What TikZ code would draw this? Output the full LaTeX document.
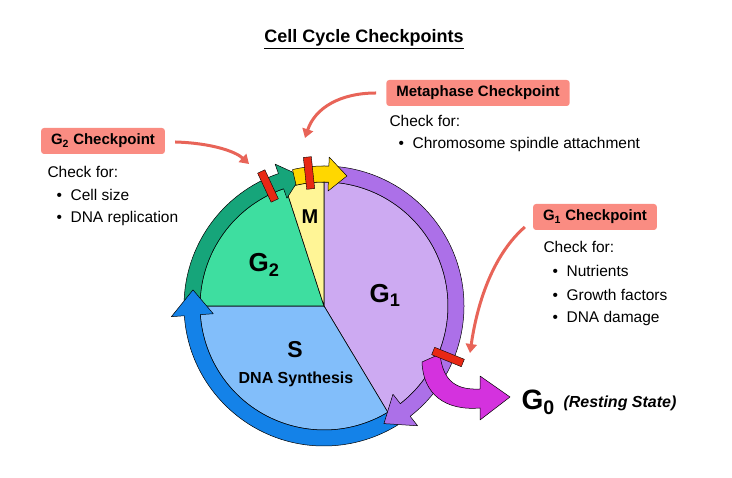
\documentclass[tikz,border=0pt]{standalone}
\usepackage{fontspec}
\setmainfont{Liberation Sans}
\usetikzlibrary{arrows.meta,calc}
\definecolor{pG1}{RGB}{205,170,242}
\definecolor{rG1}{RGB}{172,112,232}
\definecolor{pS}{RGB}{130,190,250}
\definecolor{rS}{RGB}{20,130,232}
\definecolor{pG2}{RGB}{62,222,160}
\definecolor{rG2}{RGB}{22,165,122}
\definecolor{pM}{RGB}{255,245,150}
\definecolor{rM}{RGB}{255,215,0}
\definecolor{magen}{RGB}{212,50,222}
\definecolor{redbar}{RGB}{232,40,20}
\definecolor{pinkbox}{RGB}{250,140,130}
\definecolor{pinkarr}{RGB}{232,100,88}
\newcommand{\cycarr}[5]{% color, start, tip, headlen(deg), head extra
  \filldraw[fill=#1,draw=black,line width=0.5pt,line join=round]
   (324,172) ++(#2:124) arc[start angle=#2,end angle={#3+#4},radius=124]
   -- ($(324,172)+({#3+#4}:{124-#5})$) -- ($(324,172)+(#3:132)$) -- ($(324,172)+({#3+#4}:{140+#5})$)
   -- ($(324,172)+({#3+#4}:140)$) arc[start angle={#3+#4},end angle=#2,radius=140] -- cycle;}
\tikzset{
 lbl/.style={fill=pinkbox,rounded corners=3pt,inner xsep=10pt,minimum height=26pt,font=\fontsize{15}{17}\selectfont\bfseries},
 txt/.style={anchor=west,font=\fontsize{15.5}{18}\selectfont},
 parr/.style={draw=pinkarr,line width=3pt,-{Triangle[length=9pt,width=11pt]}},
 bar/.style={fill=redbar,draw=black,line width=0.4pt},
}
\begin{document}
\begin{tikzpicture}[x=1pt,y=1pt]
\useasboundingbox (0,0) rectangle (732,478);
\coordinate (c) at (324,172);
% pie
\filldraw[fill=pG1,line width=0.6pt] (c) -- ++(90:124) arc[start angle=90,end angle=-59,radius=124] -- cycle;
\filldraw[fill=pS,line width=0.6pt] (c) -- ++(-59:124) arc[start angle=-59,end angle=-180,radius=124] -- cycle;
\filldraw[fill=pG2,line width=0.6pt] (c) -- ++(180:124) arc[start angle=180,end angle=108,radius=124] -- cycle;
\filldraw[fill=pM,line width=0.6pt] (c) -- ++(108:124) arc[start angle=108,end angle=90,radius=124] -- cycle;
% ring arrows
\cycarr{rG2}{180}{100}{9}{10}
\cycarr{rS}{-58}{-187}{11}{13}
\cycarr{rG1}{91}{-63}{11}{12}
\cycarr{rM}{103}{80}{8}{9}
% G0 arrow
\filldraw[fill=magen,line width=0.5pt,line join=round]
 (440,124) .. controls (443,95) and (458,88) .. (480,89)
 -- (480,102) -- (510,81) -- (480,58) -- (480,70)
 .. controls (445,67) and (423,84) .. (422,116) -- cycle;
% checkpoint bars
\node[bar,minimum width=32pt,minimum height=8pt,inner sep=0pt,rotate=115] (b2) at (268,292) {};
\node[bar,minimum width=32pt,minimum height=8pt,inner sep=0pt,rotate=96] (bm) at (309,305) {};
\node[bar,minimum width=32pt,minimum height=8pt,inner sep=0pt,rotate=-22] (b1) at (448,121) {};
% pie labels
\node[font=\fontsize{20}{22}\selectfont\bfseries] (m) at (310,261) {M};
\node[font=\fontsize{26}{28}\selectfont\bfseries] (g2) at (264,213) {G$_{\mathbf 2}$};
\node[font=\fontsize{26}{28}\selectfont\bfseries] (g1) at (385,183) {G$_{\mathbf 1}$};
\node[font=\fontsize{23}{25}\selectfont\bfseries] (s) at (295,128) {S};
\node[font=\fontsize{16}{18}\selectfont\bfseries] (dna) at (296,99) {DNA Synthesis};
\node[anchor=west,font=\fontsize{28}{30}\selectfont\bfseries] (g0) at (518,76) {G$_{\mathbf 0}$};
\node[anchor=west,font=\fontsize{16}{18}\selectfont\bfseries\itshape] (rest) at (560,75) {(Resting State)};
% title
\node[font=\fontsize{18}{20}\selectfont\bfseries] (title) at (364,439) {\underline{Cell Cycle Checkpoints}};
% labels
\node[lbl] (l2) at (103,337) {G$_{\mathbf 2}$ Checkpoint};
\node[lbl] (lm) at (478,385) {Metaphase Checkpoint};
\node[lbl] (l1) at (595,261) {G$_{\mathbf 1}$ Checkpoint};
\node[txt] (t2) at (44,306) {Check for:};
\node[txt] (t2a) at (53,283) {\textbullet\ \ Cell size};
\node[txt] (t2b) at (53,259) {\textbullet\ \ DNA replication};
\node[txt] (tm) at (386,357) {Check for:};
\node[txt] (tma) at (395,333) {\textbullet\ \ Chromosome spindle attachment};
\node[txt] (t1) at (540,231) {Check for:};
\node[txt] (t1a) at (549,207) {\textbullet\ \ Nutrients};
\node[txt] (t1b) at (549,183) {\textbullet\ \ Growth factors};
\node[txt] (t1c) at (549,159) {\textbullet\ \ DNA damage};
% pink arrows
\coordinate (e2) at (249,314);
\coordinate (em) at (305,340);
\coordinate (e1) at (470,125);
\draw[parr] (l2.east) ++(10,-1) .. controls (210,335) and (235,327) .. (e2);
\draw[parr] (lm.west) ++(-10,0) .. controls (340,385) and (315,370) .. (em);
\draw[parr] (l1.west) ++(-8,-10) .. controls (495,225) and (478,180) .. (e1);
\end{tikzpicture}
\end{document}
